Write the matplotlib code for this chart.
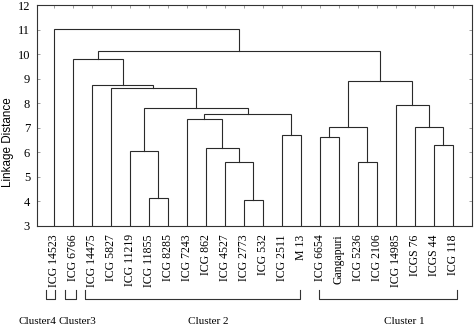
import matplotlib
matplotlib.use("Agg")
import matplotlib.pyplot as plt
import matplotlib.transforms as mtransforms

leaf_labels = ["ICG 14523", "ICG 6766", "ICG 14475", "ICG 5827", "ICG 11219",
               "ICG 11855", "ICG 8285", "ICG 7243", "ICG 862", "ICG 4527",
               "ICG 2773", "ICG 532", "ICG 2511", "M 13", "ICG 6654",
               "Gangapuri", "ICG 5236", "ICG 2106", "ICG 14985", "ICGS 76",
               "ICGS 44", "ICG 118"]

# merges: node ids < 22 are leaves, >= 22 are earlier merges (22 + merge index)
merge_left = [5, 10, 9, 8, 7, 12, 26, 4, 29, 3, 2, 1, 14, 16, 34, 20, 19, 18, 36, 33, 0]
merge_right = [6, 11, 23, 24, 25, 13, 27, 22, 28, 30, 31, 32, 15, 17, 35, 21, 37, 38, 39, 40, 41]
merge_height = [4.13, 4.06, 5.62, 6.18, 7.34, 6.72, 7.55, 6.05, 7.82, 8.63, 8.73, 9.79,
                6.61, 5.62, 7.04, 6.31, 7.04, 7.94, 8.90, 10.14, 11.02]

y_ticks = [3, 4, 5, 6, 7, 8, 9, 10, 11, 12]

cluster_names = ["Cluster4", "Cluster3", "Cluster 2", "Cluster 1"]
cluster_first = [0, 1, 2, 14]
cluster_last = [0, 1, 13, 21]

n = len(leaf_labels)
fig = plt.figure(figsize=(4.74, 3.26), dpi=100)
ax = fig.add_axes([37/474, 1-226/326, 435/474, 221/326])

pos = {i: float(i) for i in range(n)}
hgt = {i: 0.0 for i in range(n)}
lc = "#2a2a2a"
for k, (a, b, h) in enumerate(zip(merge_left, merge_right, merge_height)):
    xa, xb = pos[a], pos[b]
    ax.plot([xa, xa, xb, xb], [hgt[a], h, h, hgt[b]], color=lc, lw=0.8,
            solid_joinstyle="miter")
    pos[n + k] = (xa + xb) / 2
    hgt[n + k] = h

ax.set_xlim(-0.88, 22.02)
ax.set_ylim(3, 12)
ax.set_yticks(y_ticks)
ax.set_yticklabels([str(t) for t in y_ticks], family="Liberation Serif", fontsize=9)
ax.set_xticks(range(n))
ax.set_xticklabels(leaf_labels, rotation=90, family="Liberation Serif", fontsize=8.5,
                   va="top", ha="center")
ax.tick_params(axis="both", direction="in", length=2.5, width=0.5, color="#777777",
               top=True, right=True, pad=5)
ax.tick_params(axis="x", pad=6)
for s in ax.spines.values():
    s.set_linewidth(0.8)
    s.set_color("#333333")

ax.set_ylabel("Linkage Distance", family="Liberation Sans", fontsize=8.4)
ax.yaxis.set_label_coords(-0.053, 0.38)

tr = mtransforms.blended_transform_factory(ax.transData, fig.transFigure)
y_top = 1 - 290/326
y_bot = 1 - 299/326
y_txt = 1 - 321/326
bracket_x0 = [-0.43, 0.58, 1.65, 13.98]
bracket_x1 = [0.06, 1.15, 12.96, 21.24]
for x0, x1 in zip(bracket_x0, bracket_x1):
    line = plt.Line2D([x0, x0, x1, x1], [y_top, y_bot, y_bot, y_top], transform=tr,
                      color="#333333", lw=0.8, clip_on=False)
    fig.add_artist(line)

text_px = [37, 77, 208, 404]
for name, px in zip(cluster_names, text_px):
    fig.text(px/474, y_txt, name, family="Liberation Serif", fontsize=8,
             ha="center", va="center")

fig.savefig("out.png", dpi=100)
